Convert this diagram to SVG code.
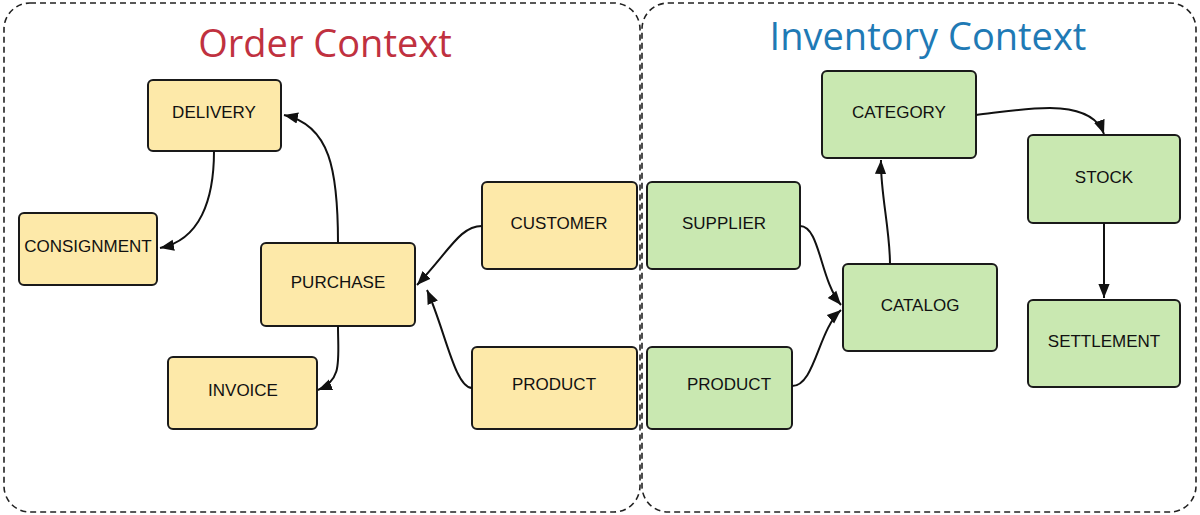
<svg xmlns="http://www.w3.org/2000/svg" width="1200" height="515" viewBox="0 0 1200 515">
<style>
.ctx{fill:none;stroke:#222;stroke-width:1.6;stroke-dasharray:6,4}
.y{fill:#fde9a9;stroke:#1a1a1a;stroke-width:2}
.g{fill:#c9e8b1;stroke:#1a1a1a;stroke-width:2}
.t{font-family:"Liberation Sans",Arial,sans-serif;font-size:17px;fill:#111;text-anchor:middle}
.title{font-family:"Open Sans","Liberation Sans",sans-serif;font-size:38px;text-anchor:middle}
.c{fill:none;stroke:#111;stroke-width:2}
</style>
<defs><marker id="a" viewBox="0 0 10 10" refX="10" refY="5" markerWidth="8" markerHeight="8" markerUnits="userSpaceOnUse" orient="auto"><path d="M0,0L10,5L0,10z" fill="#111"/></marker>
<marker id="b" viewBox="0 0 10 10" refX="10" refY="5" markerWidth="14" markerHeight="14" markerUnits="userSpaceOnUse" orient="auto"><path d="M0,1L10,5L0,9z" fill="#111"/></marker></defs>
<g id="order-context"><rect class="ctx" x="4" y="3" width="636" height="509" rx="26"/><text class="title" x="325" y="57" fill="#c0313f">Order Context</text></g>
<g id="inventory-context"><rect class="ctx" x="642" y="3" width="554" height="509" rx="26"/><text class="title" x="928" y="50" fill="#1f7ab5">Inventory Context</text></g>
<g id="delivery"><rect class="y" x="148" y="80" width="133" height="71" rx="5"/><text class="t" x="214" y="118">DELIVERY</text></g>
<g id="consignment"><rect class="y" x="19" y="213" width="138" height="72" rx="5"/><text class="t" x="88" y="252">CONSIGNMENT</text></g>
<g id="purchase"><rect class="y" x="261" y="243" width="154" height="83" rx="5"/><text class="t" x="338" y="288">PURCHASE</text></g>
<g id="invoice"><rect class="y" x="168" y="357" width="149" height="72" rx="5"/><text class="t" x="243" y="396">INVOICE</text></g>
<g id="customer"><rect class="y" x="482" y="182" width="155" height="87" rx="5"/><text class="t" x="559" y="229">CUSTOMER</text></g>
<g id="product-order"><rect class="y" x="472" y="347" width="165" height="82" rx="5"/><text class="t" x="554" y="390">PRODUCT</text></g>
<g id="supplier"><rect class="g" x="647" y="182" width="153" height="87" rx="5"/><text class="t" x="724" y="229">SUPPLIER</text></g>
<g id="product-inventory"><rect class="g" x="647" y="347" width="145" height="82" rx="5"/><text class="t" x="729" y="390">PRODUCT</text></g>
<g id="category"><rect class="g" x="822" y="71" width="154" height="87" rx="5"/><text class="t" x="899" y="118">CATEGORY</text></g>
<g id="catalog"><rect class="g" x="843" y="264" width="154" height="87" rx="5"/><text class="t" x="920" y="311">CATALOG</text></g>
<g id="stock"><rect class="g" x="1028" y="135" width="152" height="88" rx="5"/><text class="t" x="1104" y="183">STOCK</text></g>
<g id="settlement"><rect class="g" x="1028" y="300" width="152" height="87" rx="5"/><text class="t" x="1104" y="347">SETTLEMENT</text></g>
<g id="connectors">
<path class="c" marker-end="url(#b)" d="M338,243 C338,170 330,125 284,115"/>
<path class="c" marker-end="url(#b)" d="M214,151 C214,200 200,240 160,248"/>
<path class="c" marker-end="url(#b)" d="M338,326 C338,360 343,380 318,390"/>
<path class="c" marker-end="url(#b)" d="M482,226 C460,226 450,250 417,285"/>
<path class="c" marker-end="url(#b)" d="M472,388 C455,388 445,330 427,290"/>
<path class="c" marker-end="url(#b)" d="M800,226 C820,226 820,280 841,305"/>
<path class="c" marker-end="url(#b)" d="M792,386 C815,386 818,330 841,310"/>
<path class="c" marker-end="url(#b)" d="M890,264 C890,230 880,190 881,160"/>
<path class="c" marker-end="url(#b)" d="M976,115 C1020,110 1090,95 1104,134"/>
<path class="c" marker-end="url(#b)" d="M1104,223 L1104,298"/>
</g>
</svg>
